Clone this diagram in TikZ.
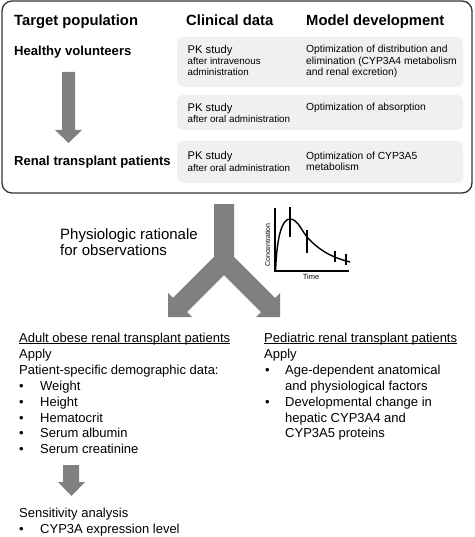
\documentclass[tikz,border=0pt]{standalone}
\usepackage{fontspec}
\setmainfont{Liberation Sans}
\begin{document}
\begin{tikzpicture}[x=1pt,y=-1pt,
  lbl/.style={anchor=base west, inner sep=0pt},
  txt/.style={lbl, font=\fontsize{13}{15.7}\selectfont},
  phys/.style={lbl, font=\fontsize{15}{16}\selectfont},
  hdr/.style={lbl, font=\bfseries\fontsize{14.8}{16}\selectfont},
  pop/.style={lbl, font=\bfseries\fontsize{13.1}{16}\selectfont},
  pk/.style={lbl, font=\fontsize{11.2}{13}\selectfont},
  sub/.style={lbl, font=\fontsize{9.8}{12}\selectfont},
  mdl/.style={lbl, font=\fontsize{10.3}{12}\selectfont},
  rowbox/.style={fill=gray!12, draw=none, rounded corners=6pt},
  bigarrow/.style={fill=black!50, draw=none},
  axis/.style={line width=1.4pt, black},
  ulin/.style={line width=0.7pt, black}
]
\useasboundingbox (0,0) rectangle (474,537);

% outer frame
\draw[rounded corners=10pt, line width=1.3pt, draw=black!80] (2,1) rectangle (472,193);

% row boxes
\fill[rowbox] (177,37) rectangle (463,87);
\fill[rowbox] (177,95) rectangle (463,130);
\fill[rowbox] (177,141) rectangle (463,183);

% headers
\node[hdr] (h1) at (14,25.5) {Target population};
\node[hdr] (h2) at (186,25.5) {Clinical data};
\node[hdr] (h3) at (306,25.5) {Model development};

\node[pop] (hv) at (14,56) {Healthy volunteers};
\node[pop] (rt) at (14,165.7) {Renal transplant patients};

% down arrow 1
\fill[bigarrow] (62,72) -- (75,72) -- (75,130) -- (82,130) -- (68.5,143) -- (55,130) -- (62,130) -- cycle;

% row 1
\node[pk] (pk1) at (187.5,53.3) {PK study};
\node[sub] (s1a) at (187.5,64.5) {after intravenous};
\node[sub] (s1b) at (187.5,76) {administration};
\node[mdl] (m1a) at (306,52.3) {Optimization of distribution and};
\node[mdl] (m1b) at (306,64.2) {elimination (CYP3A4 metabolism};
\node[mdl] (m1c) at (306,76) {and renal excretion)};

% row 2
\node[pk] (pk2) at (187.5,111.7) {PK study};
\node[sub] (s2a) at (187.5,122.7) {after oral administration};
\node[mdl] (m2a) at (306,111) {Optimization of absorption};

% row 3
\node[pk] (pk3) at (187.5,160) {PK study};
\node[sub] (s3a) at (187.5,171.7) {after oral administration};
\node[mdl] (m3a) at (306,159.3) {Optimization of CYP3A5};
\node[mdl] (m3b) at (306,170.7) {metabolism};

% physiologic rationale
\node[phys] (ph1) at (60,239.4) {Physiologic rationale};
\node[phys] (ph2) at (60,255) {for observations};

% Y arrow
\fill[bigarrow] (214,204) -- (214,256.9) -- (172.95,297.95) -- (168,293) -- (168,317)
  -- (192,317) -- (187.05,312.05) -- (224,275.1) -- (260.95,312.05) -- (256,317)
  -- (280,317) -- (280,293) -- (275.05,297.95) -- (234,256.9) -- (234,204) -- cycle;

% concentration-time graph
\draw[axis] (275,208) -- (275,271) -- (349,271);
\draw[axis] (275.6,270) .. controls (277,236) and (282,219) .. (290,219)
  .. controls (298,219) and (302,232) .. (308,238)
  .. controls (318,249) and (330,257) .. (350,262);
\draw[axis] (290,207) -- (290,237);
\draw[axis] (307,230) -- (307,253);
\draw[axis] (335,251) -- (335,262);
\draw[axis] (346,254) -- (346,265);
\node[inner sep=0pt, rotate=90, font=\fontsize{7}{8}\selectfont] (conc) at (267.5,245) {Concentration};
\node[inner sep=0pt, font=\fontsize{7.5}{8}\selectfont] (time) at (311,277) {Time};

% left column
\node[txt] (adult) at (19,342) {Adult obese renal transplant patients};
\draw[ulin] ([yshift=-1.8pt]adult.base west) -- ([yshift=-1.8pt]adult.base east);
\node[txt] (la1) at (19,358.7) {Apply};
\node[txt] (la2) at (19,374.7) {Patient-specific demographic data:};
\foreach \y/\t/\n in {390.4/Weight/w, 406/Height/h, 422/Hematocrit/hc, 437.7/Serum albumin/sa, 453.4/Serum creatinine/sc}{
  \node[txt] (b\n) at (19,\y) {•};
  \node[txt] (t\n) at (40,\y) {\t};
}
\fill[bigarrow] (63,465) -- (79,465) -- (79,482) -- (85,482) -- (71.5,496) -- (58,482) -- (63,482) -- cycle;
\node[txt] (sens) at (19,517.4) {Sensitivity analysis};
\node[txt] (bcyp) at (19,533.4) {•};
\node[txt] (tcyp) at (40,533.4) {CYP3A expression level};

% right column
\node[txt] (ped) at (264,342) {Pediatric renal transplant patients};
\draw[ulin] ([yshift=-1.8pt]ped.base west) -- ([yshift=-1.8pt]ped.base east);
\node[txt] (ra1) at (264,358.7) {Apply};
\node[txt] (rb1) at (265,374.7) {•};
\node[txt] (rt1) at (285,374.7) {Age-dependent anatomical};
\node[txt] (rt2) at (285,390.4) {and physiological factors};
\node[txt] (rb2) at (265,406) {•};
\node[txt] (rt3) at (285,406) {Developmental change in};
\node[txt] (rt4) at (285,422) {hepatic CYP3A4 and};
\node[txt] (rt5) at (285,437.7) {CYP3A5 proteins};
\end{tikzpicture}
\end{document}
